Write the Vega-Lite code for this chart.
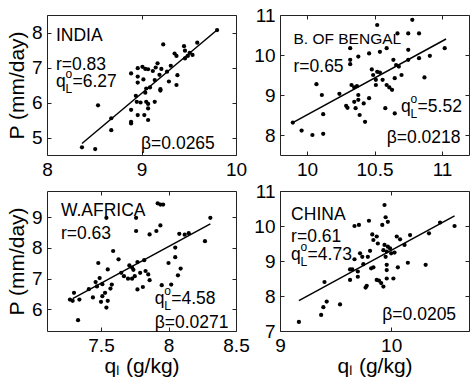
{
"$schema": "https://vega.github.io/schema/vega-lite/v6.json",
"padding": {"left": 5, "top": 5, "right": 2, "bottom": 2},
"config": {
  "font": "Liberation Sans",
  "view": {"stroke": "#222", "strokeWidth": 1},
  "axis": {"grid": false, "domain": false, "tickSize": -4, "tickColor": "#222", "labelColor": "black", "labelFontSize": 19, "labelPadding": 9, "labelFlush": false, "labelOverlap": false, "titleFontSize": 21, "titleFontWeight": "normal", "titleColor": "black", "titlePadding": 4},
  "axisX": {"titlePadding": 0},
  "text": {"fontSize": 17.5, "align": "left", "baseline": "alphabetic", "color": "black"}
},
"datasets": {
  "points": [
    {"p":"IN","x":9.80,"y":8.07},{"p":"IN","x":9.59,"y":7.71},{"p":"IN","x":9.45,"y":7.61},{"p":"IN","x":9.46,"y":7.48},{"p":"IN","x":9.51,"y":7.42},{"p":"IN","x":9.54,"y":7.36},{"p":"IN","x":9.46,"y":7.26},{"p":"IN","x":9.49,"y":7.33},{"p":"IN","x":9.23,"y":7.66},{"p":"IN","x":9.35,"y":7.40},{"p":"IN","x":9.37,"y":7.33},{"p":"IN","x":9.31,"y":7.05},{"p":"IN","x":9.27,"y":6.88},{"p":"IN","x":9.38,"y":6.78},{"p":"IN","x":9.17,"y":7.12},{"p":"IN","x":9.15,"y":7.00},{"p":"IN","x":9.21,"y":6.96},{"p":"IN","x":9.12,"y":6.90},{"p":"IN","x":9.19,"y":6.79},{"p":"IN","x":9.14,"y":6.64},{"p":"IN","x":9.29,"y":6.60},{"p":"IN","x":9.37,"y":6.50},{"p":"IN","x":9.20,"y":6.38},{"p":"IN","x":9.20,"y":6.34},{"p":"IN","x":8.89,"y":6.83},{"p":"IN","x":8.96,"y":6.98},{"p":"IN","x":9.01,"y":7.02},{"p":"IN","x":9.04,"y":6.96},{"p":"IN","x":8.96,"y":6.74},{"p":"IN","x":8.96,"y":6.57},{"p":"IN","x":9.02,"y":6.66},{"p":"IN","x":9.07,"y":6.95},{"p":"IN","x":9.05,"y":6.40},{"p":"IN","x":9.04,"y":6.28},{"p":"IN","x":9.09,"y":6.43},{"p":"IN","x":8.94,"y":6.19},{"p":"IN","x":8.99,"y":6.00},{"p":"IN","x":8.95,"y":6.02},{"p":"IN","x":9.05,"y":6.02},{"p":"IN","x":9.07,"y":5.96},{"p":"IN","x":9.14,"y":6.02},{"p":"IN","x":8.89,"y":5.79},{"p":"IN","x":8.96,"y":5.64},{"p":"IN","x":9.03,"y":5.64},{"p":"IN","x":9.07,"y":5.50},{"p":"IN","x":8.89,"y":5.45},{"p":"IN","x":8.89,"y":5.40},{"p":"IN","x":8.54,"y":5.92},{"p":"IN","x":8.68,"y":5.55},{"p":"IN","x":8.68,"y":5.21},{"p":"IN","x":8.37,"y":4.72},{"p":"IN","x":8.51,"y":4.67},{"p":"IN","x":9.07,"y":5.83},
    {"p":"BB","x":9.895,"y":8.31},{"p":"BB","x":9.96,"y":8.11},{"p":"BB","x":10.04,"y":8.00},{"p":"BB","x":10.12,"y":8.03},{"p":"BB","x":10.07,"y":9.27},{"p":"BB","x":10.11,"y":9.00},{"p":"BB","x":10.12,"y":8.52},{"p":"BB","x":10.24,"y":9.03},{"p":"BB","x":10.29,"y":8.73},{"p":"BB","x":10.30,"y":8.68},{"p":"BB","x":10.32,"y":10.17},{"p":"BB","x":10.32,"y":9.88},{"p":"BB","x":10.32,"y":9.77},{"p":"BB","x":10.33,"y":9.25},{"p":"BB","x":10.35,"y":9.19},{"p":"BB","x":10.37,"y":9.22},{"p":"BB","x":10.38,"y":9.96},{"p":"BB","x":10.35,"y":8.83},{"p":"BB","x":10.36,"y":8.67},{"p":"BB","x":10.38,"y":8.88},{"p":"BB","x":10.38,"y":9.00},{"p":"BB","x":10.39,"y":8.50},{"p":"BB","x":10.42,"y":8.79},{"p":"BB","x":10.43,"y":8.33},{"p":"BB","x":10.46,"y":8.92},{"p":"BB","x":10.46,"y":10.04},{"p":"BB","x":10.48,"y":9.64},{"p":"BB","x":10.49,"y":9.50},{"p":"BB","x":10.51,"y":9.38},{"p":"BB","x":10.52,"y":9.58},{"p":"BB","x":10.52,"y":10.75},{"p":"BB","x":10.54,"y":9.56},{"p":"BB","x":10.51,"y":9.25},{"p":"BB","x":10.56,"y":9.38},{"p":"BB","x":10.54,"y":10.08},{"p":"BB","x":10.59,"y":10.17},{"p":"BB","x":10.59,"y":9.25},{"p":"BB","x":10.61,"y":9.19},{"p":"BB","x":10.63,"y":9.13},{"p":"BB","x":10.58,"y":8.67},{"p":"BB","x":10.65,"y":8.54},{"p":"BB","x":10.64,"y":9.88},{"p":"BB","x":10.66,"y":9.75},{"p":"BB","x":10.68,"y":9.71},{"p":"BB","x":10.70,"y":9.50},{"p":"BB","x":10.65,"y":9.42},{"p":"BB","x":10.67,"y":10.54},{"p":"BB","x":10.75,"y":10.54},{"p":"BB","x":10.78,"y":10.88},{"p":"BB","x":10.75,"y":10.13},{"p":"BB","x":10.75,"y":9.88},{"p":"BB","x":10.83,"y":10.54},{"p":"BB","x":10.83,"y":9.92},{"p":"BB","x":10.87,"y":9.44},{"p":"BB","x":10.91,"y":9.98},{"p":"BB","x":11.02,"y":10.17},
    {"p":"WA","x":7.27,"y":6.32},{"p":"WA","x":7.29,"y":6.28},{"p":"WA","x":7.30,"y":6.54},{"p":"WA","x":7.34,"y":6.32},{"p":"WA","x":7.33,"y":5.65},{"p":"WA","x":7.41,"y":6.66},{"p":"WA","x":7.44,"y":6.39},{"p":"WA","x":7.46,"y":6.89},{"p":"WA","x":7.47,"y":6.75},{"p":"WA","x":7.48,"y":7.51},{"p":"WA","x":7.49,"y":7.02},{"p":"WA","x":7.51,"y":6.82},{"p":"WA","x":7.51,"y":6.43},{"p":"WA","x":7.50,"y":6.25},{"p":"WA","x":7.53,"y":6.54},{"p":"WA","x":7.54,"y":6.06},{"p":"WA","x":7.55,"y":6.28},{"p":"WA","x":7.55,"y":7.30},{"p":"WA","x":7.54,"y":8.98},{"p":"WA","x":7.57,"y":6.68},{"p":"WA","x":7.58,"y":6.81},{"p":"WA","x":7.59,"y":7.90},{"p":"WA","x":7.63,"y":7.63},{"p":"WA","x":7.65,"y":7.19},{"p":"WA","x":7.67,"y":7.08},{"p":"WA","x":7.70,"y":7.00},{"p":"WA","x":7.71,"y":7.43},{"p":"WA","x":7.73,"y":7.36},{"p":"WA","x":7.74,"y":7.29},{"p":"WA","x":7.75,"y":7.08},{"p":"WA","x":7.76,"y":8.98},{"p":"WA","x":7.76,"y":8.55},{"p":"WA","x":7.73,"y":7.00},{"p":"WA","x":7.77,"y":7.54},{"p":"WA","x":7.77,"y":6.65},{"p":"WA","x":7.79,"y":7.19},{"p":"WA","x":7.81,"y":6.73},{"p":"WA","x":7.82,"y":7.60},{"p":"WA","x":7.83,"y":7.25},{"p":"WA","x":7.85,"y":7.14},{"p":"WA","x":7.86,"y":6.95},{"p":"WA","x":7.86,"y":8.44},{"p":"WA","x":7.91,"y":8.55},{"p":"WA","x":7.92,"y":9.45},{"p":"WA","x":7.94,"y":9.41},{"p":"WA","x":7.96,"y":9.41},{"p":"WA","x":7.94,"y":8.73},{"p":"WA","x":7.95,"y":6.79},{"p":"WA","x":8.00,"y":7.51},{"p":"WA","x":8.02,"y":6.81},{"p":"WA","x":8.05,"y":8.01},{"p":"WA","x":8.05,"y":7.70},{"p":"WA","x":8.07,"y":7.11},{"p":"WA","x":8.08,"y":8.46},{"p":"WA","x":8.09,"y":7.33},{"p":"WA","x":8.12,"y":8.43},{"p":"WA","x":8.15,"y":8.48},{"p":"WA","x":8.27,"y":8.22},{"p":"WA","x":8.31,"y":8.98},
    {"p":"CH","x":9.17,"y":7.26},{"p":"CH","x":9.37,"y":7.46},{"p":"CH","x":9.39,"y":7.68},{"p":"CH","x":9.42,"y":7.84},{"p":"CH","x":9.40,"y":8.40},{"p":"CH","x":9.54,"y":7.76},{"p":"CH","x":9.63,"y":8.46},{"p":"CH","x":9.63,"y":8.76},{"p":"CH","x":9.65,"y":8.76},{"p":"CH","x":9.67,"y":9.05},{"p":"CH","x":9.67,"y":10.00},{"p":"CH","x":9.71,"y":10.03},{"p":"CH","x":9.70,"y":8.55},{"p":"CH","x":9.70,"y":8.70},{"p":"CH","x":9.72,"y":9.22},{"p":"CH","x":9.74,"y":9.12},{"p":"CH","x":9.75,"y":8.91},{"p":"CH","x":9.77,"y":8.24},{"p":"CH","x":9.78,"y":8.29},{"p":"CH","x":9.79,"y":9.12},{"p":"CH","x":9.80,"y":10.15},{"p":"CH","x":9.81,"y":9.29},{"p":"CH","x":9.82,"y":8.79},{"p":"CH","x":9.84,"y":8.82},{"p":"CH","x":9.83,"y":9.76},{"p":"CH","x":9.84,"y":9.60},{"p":"CH","x":9.87,"y":9.70},{"p":"CH","x":9.88,"y":9.50},{"p":"CH","x":9.87,"y":8.46},{"p":"CH","x":9.89,"y":8.44},{"p":"CH","x":9.91,"y":8.37},{"p":"CH","x":9.93,"y":8.27},{"p":"CH","x":9.92,"y":10.03},{"p":"CH","x":9.94,"y":10.60},{"p":"CH","x":9.95,"y":10.25},{"p":"CH","x":9.97,"y":10.12},{"p":"CH","x":9.93,"y":9.31},{"p":"CH","x":9.94,"y":9.46},{"p":"CH","x":9.95,"y":9.12},{"p":"CH","x":9.96,"y":9.27},{"p":"CH","x":9.97,"y":9.41},{"p":"CH","x":9.99,"y":9.36},{"p":"CH","x":9.96,"y":8.89},{"p":"CH","x":9.96,"y":8.74},{"p":"CH","x":9.96,"y":8.50},{"p":"CH","x":10.00,"y":9.22},{"p":"CH","x":10.02,"y":8.50},{"p":"CH","x":10.03,"y":9.24},{"p":"CH","x":10.06,"y":8.82},{"p":"CH","x":10.05,"y":9.70},{"p":"CH","x":10.08,"y":9.62},{"p":"CH","x":10.12,"y":9.46},{"p":"CH","x":10.15,"y":8.95},{"p":"CH","x":10.17,"y":9.74},{"p":"CH","x":10.31,"y":8.89},{"p":"CH","x":10.34,"y":9.79},{"p":"CH","x":10.44,"y":10.10},{"p":"CH","x":10.57,"y":10.00}
  ],
  "fits": [
    {"p":"IN","x":8.37,"y":4.83},{"p":"IN","x":9.79,"y":8.05},
    {"p":"BB","x":9.895,"y":8.31},{"p":"BB","x":11.03,"y":10.40},
    {"p":"WA","x":7.29,"y":6.35},{"p":"WA","x":8.31,"y":8.78},
    {"p":"CH","x":9.17,"y":7.87},{"p":"CH","x":10.57,"y":10.29}
  ],
  "names": [
    {"p":"IN","text":"INDIA","x":8.095,"y":7.75},
    {"p":"BB","text":"B. OF BENGAL","x":9.90,"y":10.28},
    {"p":"WA","text":"W.AFRICA","x":7.203,"y":9.05},
    {"p":"CH","text":"CHINA","x":9.10,"y":10.16}
  ],
  "stats": [
    {"p":"IN","text":"r=0.83","x":8.095,"y":6.92},{"p":"IN","text":"β=0.0265","x":8.995,"y":4.66},
    {"p":"BB","text":"r=0.65","x":9.90,"y":9.575},{"p":"BB","text":"β=0.0218","x":10.59,"y":7.79},
    {"p":"WA","text":"r=0.63","x":7.203,"y":8.29},{"p":"WA","text":"β=0.0271","x":7.898,"y":5.40},
    {"p":"CH","text":"r=0.61","x":9.10,"y":9.54},{"p":"CH","text":"β=0.0205","x":9.92,"y":7.32}
  ],
  "qs": [
    {"p":"IN","text":"=6.27","x":8.095,"y":6.44},
    {"p":"BB","text":"=5.52","x":10.697,"y":8.575},
    {"p":"WA","text":"=4.58","x":7.898,"y":6.19},
    {"p":"CH","text":"=4.73","x":9.10,"y":9.02}
  ]
},
"bounds": "flush",
"columns": 2,
"spacing": {"row": 36, "column": 44},
"concat": [
  {
    "width": 189, "height": 140,
    "resolve": {"axis": {"x": "independent", "y": "independent"}},
    "layer": [
      {"data": {"name": "points"}, "transform": [{"filter": "datum.p === 'IN'"}],
       "mark": {"type": "circle", "size": 18, "color": "black", "opacity": 1},
       "encoding": {
         "x": {"field": "x", "type": "quantitative", "scale": {"domain": [8, 10], "nice": false, "zero": false}, "axis": {"values": [8, 9, 10], "format": ".1~f", "title": null}},
         "y": {"field": "y", "type": "quantitative", "scale": {"domain": [4.5, 8.5], "nice": false, "zero": false}, "axis": {"values": [5, 6, 7, 8], "format": ".1~f", "title": "P (mm/day)"}}}},
      {"data": {"name": "fits"}, "transform": [{"filter": "datum.p === 'IN'"}],
       "mark": {"type": "line", "color": "black", "strokeWidth": 1.5},
       "encoding": {
         "x": {"field": "x", "type": "quantitative", "scale": {"domain": [8, 10], "nice": false, "zero": false}, "axis": {"orient": "top", "values": [8, 9, 10], "labels": false, "title": null}},
         "y": {"field": "y", "type": "quantitative", "scale": {"domain": [4.5, 8.5], "nice": false, "zero": false}, "axis": {"orient": "right", "values": [5, 6, 7, 8], "labels": false, "title": null}}}},
      {"data": {"name": "names"}, "transform": [{"filter": "datum.p === 'IN'"}],
       "mark": {"type": "text", "fontSize": 17.5},
       "encoding": {"x": {"field": "x", "type": "quantitative", "axis": null}, "y": {"field": "y", "type": "quantitative", "axis": null}, "text": {"field": "text"}}},
      {"data": {"name": "stats"}, "transform": [{"filter": "datum.p === 'IN'"}],
       "mark": {"type": "text"},
       "encoding": {"x": {"field": "x", "type": "quantitative", "axis": null}, "y": {"field": "y", "type": "quantitative", "axis": null}, "text": {"field": "text"}}},
      {"data": {"name": "qs"}, "transform": [{"filter": "datum.p === 'IN'"}],
       "mark": {"type": "text"},
       "encoding": {"x": {"field": "x", "type": "quantitative", "axis": null}, "y": {"field": "y", "type": "quantitative", "axis": null}, "text": {"value": "q"}}},
      {"data": {"name": "qs"}, "transform": [{"filter": "datum.p === 'IN'"}],
       "mark": {"type": "text", "fontSize": 12, "dx": 9.5, "dy": -9},
       "encoding": {"x": {"field": "x", "type": "quantitative", "axis": null}, "y": {"field": "y", "type": "quantitative", "axis": null}, "text": {"value": "o"}}},
      {"data": {"name": "qs"}, "transform": [{"filter": "datum.p === 'IN'"}],
       "mark": {"type": "text", "fontSize": 12, "dx": 9.5, "dy": 6},
       "encoding": {"x": {"field": "x", "type": "quantitative", "axis": null}, "y": {"field": "y", "type": "quantitative", "axis": null}, "text": {"value": "L"}}},
      {"data": {"name": "qs"}, "transform": [{"filter": "datum.p === 'IN'"}],
       "mark": {"type": "text", "dx": 16.5},
       "encoding": {"x": {"field": "x", "type": "quantitative", "axis": null}, "y": {"field": "y", "type": "quantitative", "axis": null}, "text": {"field": "text"}}}
    ]
  },
  {
    "width": 189, "height": 140,
    "resolve": {"axis": {"x": "independent", "y": "independent"}},
    "layer": [
      {"data": {"name": "points"}, "transform": [{"filter": "datum.p === 'BB'"}],
       "mark": {"type": "circle", "size": 18, "color": "black", "opacity": 1},
       "encoding": {
         "x": {"field": "x", "type": "quantitative", "scale": {"domain": [9.8, 11.2], "nice": false, "zero": false}, "axis": {"values": [10, 10.5, 11], "format": ".1~f", "title": null}},
         "y": {"field": "y", "type": "quantitative", "scale": {"domain": [7.5, 11], "nice": false, "zero": false}, "axis": {"values": [8, 9, 10, 11], "format": ".1~f", "title": null}}}},
      {"data": {"name": "fits"}, "transform": [{"filter": "datum.p === 'BB'"}],
       "mark": {"type": "line", "color": "black", "strokeWidth": 1.5},
       "encoding": {
         "x": {"field": "x", "type": "quantitative", "scale": {"domain": [9.8, 11.2], "nice": false, "zero": false}, "axis": {"orient": "top", "values": [10, 10.5, 11], "labels": false, "title": null}},
         "y": {"field": "y", "type": "quantitative", "scale": {"domain": [7.5, 11], "nice": false, "zero": false}, "axis": {"orient": "right", "values": [8, 9, 10, 11], "labels": false, "title": null}}}},
      {"data": {"name": "names"}, "transform": [{"filter": "datum.p === 'BB'"}],
       "mark": {"type": "text", "fontSize": 15.5},
       "encoding": {"x": {"field": "x", "type": "quantitative", "axis": null}, "y": {"field": "y", "type": "quantitative", "axis": null}, "text": {"field": "text"}}},
      {"data": {"name": "stats"}, "transform": [{"filter": "datum.p === 'BB'"}],
       "mark": {"type": "text"},
       "encoding": {"x": {"field": "x", "type": "quantitative", "axis": null}, "y": {"field": "y", "type": "quantitative", "axis": null}, "text": {"field": "text"}}},
      {"data": {"name": "qs"}, "transform": [{"filter": "datum.p === 'BB'"}],
       "mark": {"type": "text"},
       "encoding": {"x": {"field": "x", "type": "quantitative", "axis": null}, "y": {"field": "y", "type": "quantitative", "axis": null}, "text": {"value": "q"}}},
      {"data": {"name": "qs"}, "transform": [{"filter": "datum.p === 'BB'"}],
       "mark": {"type": "text", "fontSize": 12, "dx": 9.5, "dy": -9},
       "encoding": {"x": {"field": "x", "type": "quantitative", "axis": null}, "y": {"field": "y", "type": "quantitative", "axis": null}, "text": {"value": "o"}}},
      {"data": {"name": "qs"}, "transform": [{"filter": "datum.p === 'BB'"}],
       "mark": {"type": "text", "fontSize": 12, "dx": 9.5, "dy": 6},
       "encoding": {"x": {"field": "x", "type": "quantitative", "axis": null}, "y": {"field": "y", "type": "quantitative", "axis": null}, "text": {"value": "L"}}},
      {"data": {"name": "qs"}, "transform": [{"filter": "datum.p === 'BB'"}],
       "mark": {"type": "text", "dx": 16.5},
       "encoding": {"x": {"field": "x", "type": "quantitative", "axis": null}, "y": {"field": "y", "type": "quantitative", "axis": null}, "text": {"field": "text"}}}
    ]
  },
  {
    "width": 189, "height": 140,
    "resolve": {"axis": {"x": "independent", "y": "independent"}},
    "layer": [
      {"data": {"name": "points"}, "transform": [{"filter": "datum.p === 'WA'"}],
       "mark": {"type": "circle", "size": 18, "color": "black", "opacity": 1},
       "encoding": {
         "x": {"field": "x", "type": "quantitative", "scale": {"domain": [7.1, 8.5], "nice": false, "zero": false}, "axis": {"values": [7.5, 8, 8.5], "format": ".1~f", "title": "qₗ (g/kg)"}},
         "y": {"field": "y", "type": "quantitative", "scale": {"domain": [5.3, 9.85], "nice": false, "zero": false}, "axis": {"values": [6, 7, 8, 9], "format": ".1~f", "title": "P (mm/day)"}}}},
      {"data": {"name": "fits"}, "transform": [{"filter": "datum.p === 'WA'"}],
       "mark": {"type": "line", "color": "black", "strokeWidth": 1.5},
       "encoding": {
         "x": {"field": "x", "type": "quantitative", "scale": {"domain": [7.1, 8.5], "nice": false, "zero": false}, "axis": {"orient": "top", "values": [7.5, 8, 8.5], "labels": false, "title": null}},
         "y": {"field": "y", "type": "quantitative", "scale": {"domain": [5.3, 9.85], "nice": false, "zero": false}, "axis": {"orient": "right", "values": [6, 7, 8, 9], "labels": false, "title": null}}}},
      {"data": {"name": "names"}, "transform": [{"filter": "datum.p === 'WA'"}],
       "mark": {"type": "text", "fontSize": 17.5},
       "encoding": {"x": {"field": "x", "type": "quantitative", "axis": null}, "y": {"field": "y", "type": "quantitative", "axis": null}, "text": {"field": "text"}}},
      {"data": {"name": "stats"}, "transform": [{"filter": "datum.p === 'WA'"}],
       "mark": {"type": "text"},
       "encoding": {"x": {"field": "x", "type": "quantitative", "axis": null}, "y": {"field": "y", "type": "quantitative", "axis": null}, "text": {"field": "text"}}},
      {"data": {"name": "qs"}, "transform": [{"filter": "datum.p === 'WA'"}],
       "mark": {"type": "text"},
       "encoding": {"x": {"field": "x", "type": "quantitative", "axis": null}, "y": {"field": "y", "type": "quantitative", "axis": null}, "text": {"value": "q"}}},
      {"data": {"name": "qs"}, "transform": [{"filter": "datum.p === 'WA'"}],
       "mark": {"type": "text", "fontSize": 12, "dx": 9.5, "dy": -9},
       "encoding": {"x": {"field": "x", "type": "quantitative", "axis": null}, "y": {"field": "y", "type": "quantitative", "axis": null}, "text": {"value": "o"}}},
      {"data": {"name": "qs"}, "transform": [{"filter": "datum.p === 'WA'"}],
       "mark": {"type": "text", "fontSize": 12, "dx": 9.5, "dy": 6},
       "encoding": {"x": {"field": "x", "type": "quantitative", "axis": null}, "y": {"field": "y", "type": "quantitative", "axis": null}, "text": {"value": "L"}}},
      {"data": {"name": "qs"}, "transform": [{"filter": "datum.p === 'WA'"}],
       "mark": {"type": "text", "dx": 16.5},
       "encoding": {"x": {"field": "x", "type": "quantitative", "axis": null}, "y": {"field": "y", "type": "quantitative", "axis": null}, "text": {"field": "text"}}}
    ]
  },
  {
    "width": 189, "height": 140,
    "resolve": {"axis": {"x": "independent", "y": "independent"}},
    "layer": [
      {"data": {"name": "points"}, "transform": [{"filter": "datum.p === 'CH'"}],
       "mark": {"type": "circle", "size": 18, "color": "black", "opacity": 1},
       "encoding": {
         "x": {"field": "x", "type": "quantitative", "scale": {"domain": [9, 10.7], "nice": false, "zero": false}, "axis": {"values": [9, 10], "format": ".1~f", "title": "qₗ (g/kg)"}},
         "y": {"field": "y", "type": "quantitative", "scale": {"domain": [7, 11], "nice": false, "zero": false}, "axis": {"values": [7, 8, 9, 10, 11], "format": ".1~f", "title": null}}}},
      {"data": {"name": "fits"}, "transform": [{"filter": "datum.p === 'CH'"}],
       "mark": {"type": "line", "color": "black", "strokeWidth": 1.5},
       "encoding": {
         "x": {"field": "x", "type": "quantitative", "scale": {"domain": [9, 10.7], "nice": false, "zero": false}, "axis": {"orient": "top", "values": [9, 10], "labels": false, "title": null}},
         "y": {"field": "y", "type": "quantitative", "scale": {"domain": [7, 11], "nice": false, "zero": false}, "axis": {"orient": "right", "values": [7, 8, 9, 10, 11], "labels": false, "title": null}}}},
      {"data": {"name": "names"}, "transform": [{"filter": "datum.p === 'CH'"}],
       "mark": {"type": "text", "fontSize": 17.5},
       "encoding": {"x": {"field": "x", "type": "quantitative", "axis": null}, "y": {"field": "y", "type": "quantitative", "axis": null}, "text": {"field": "text"}}},
      {"data": {"name": "stats"}, "transform": [{"filter": "datum.p === 'CH'"}],
       "mark": {"type": "text"},
       "encoding": {"x": {"field": "x", "type": "quantitative", "axis": null}, "y": {"field": "y", "type": "quantitative", "axis": null}, "text": {"field": "text"}}},
      {"data": {"name": "qs"}, "transform": [{"filter": "datum.p === 'CH'"}],
       "mark": {"type": "text"},
       "encoding": {"x": {"field": "x", "type": "quantitative", "axis": null}, "y": {"field": "y", "type": "quantitative", "axis": null}, "text": {"value": "q"}}},
      {"data": {"name": "qs"}, "transform": [{"filter": "datum.p === 'CH'"}],
       "mark": {"type": "text", "fontSize": 12, "dx": 9.5, "dy": -9},
       "encoding": {"x": {"field": "x", "type": "quantitative", "axis": null}, "y": {"field": "y", "type": "quantitative", "axis": null}, "text": {"value": "o"}}},
      {"data": {"name": "qs"}, "transform": [{"filter": "datum.p === 'CH'"}],
       "mark": {"type": "text", "fontSize": 12, "dx": 9.5, "dy": 6},
       "encoding": {"x": {"field": "x", "type": "quantitative", "axis": null}, "y": {"field": "y", "type": "quantitative", "axis": null}, "text": {"value": "L"}}},
      {"data": {"name": "qs"}, "transform": [{"filter": "datum.p === 'CH'"}],
       "mark": {"type": "text", "dx": 16.5},
       "encoding": {"x": {"field": "x", "type": "quantitative", "axis": null}, "y": {"field": "y", "type": "quantitative", "axis": null}, "text": {"field": "text"}}}
    ]
  }
]
}
